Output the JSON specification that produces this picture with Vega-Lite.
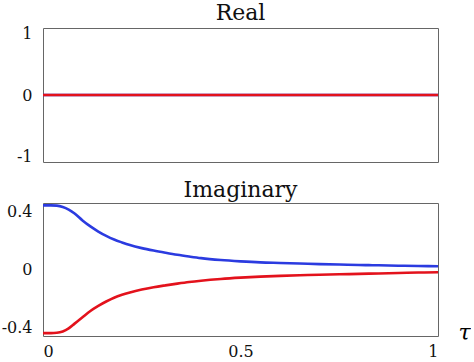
{
  "$schema": "https://vega.github.io/schema/vega-lite/v6.json",
  "padding": {"left": 0, "top": 1, "right": 0, "bottom": 0},
  "background": "white",
  "datasets": {
    "real": [
      {"series": "s1", "t": 0, "v": 0},
      {"series": "s1", "t": 1, "v": 0},
      {"series": "s2", "t": 0, "v": 0},
      {"series": "s2", "t": 1, "v": 0}
    ],
    "imag": [
      {"series": "s1", "t": 0, "v": 0.441},
      {"series": "s1", "t": 0.02, "v": 0.441},
      {"series": "s1", "t": 0.035, "v": 0.439},
      {"series": "s1", "t": 0.05, "v": 0.43},
      {"series": "s1", "t": 0.065, "v": 0.412},
      {"series": "s1", "t": 0.08, "v": 0.385},
      {"series": "s1", "t": 0.1, "v": 0.337},
      {"series": "s1", "t": 0.12, "v": 0.296},
      {"series": "s1", "t": 0.14, "v": 0.261},
      {"series": "s1", "t": 0.16, "v": 0.231},
      {"series": "s1", "t": 0.18, "v": 0.206},
      {"series": "s1", "t": 0.2, "v": 0.186},
      {"series": "s1", "t": 0.22, "v": 0.168},
      {"series": "s1", "t": 0.25, "v": 0.147},
      {"series": "s1", "t": 0.28, "v": 0.13},
      {"series": "s1", "t": 0.31, "v": 0.115},
      {"series": "s1", "t": 0.34, "v": 0.101},
      {"series": "s1", "t": 0.37, "v": 0.089},
      {"series": "s1", "t": 0.4, "v": 0.078},
      {"series": "s1", "t": 0.45, "v": 0.065},
      {"series": "s1", "t": 0.5, "v": 0.056},
      {"series": "s1", "t": 0.55, "v": 0.049},
      {"series": "s1", "t": 0.6, "v": 0.045},
      {"series": "s1", "t": 0.65, "v": 0.041},
      {"series": "s1", "t": 0.7, "v": 0.037},
      {"series": "s1", "t": 0.75, "v": 0.034},
      {"series": "s1", "t": 0.8, "v": 0.031},
      {"series": "s1", "t": 0.85, "v": 0.029},
      {"series": "s1", "t": 0.9, "v": 0.026},
      {"series": "s1", "t": 0.95, "v": 0.024},
      {"series": "s1", "t": 1.0, "v": 0.022},
      {"series": "s2", "t": 0, "v": -0.437},
      {"series": "s2", "t": 0.02, "v": -0.437},
      {"series": "s2", "t": 0.035, "v": -0.435},
      {"series": "s2", "t": 0.05, "v": -0.426},
      {"series": "s2", "t": 0.065, "v": -0.405},
      {"series": "s2", "t": 0.08, "v": -0.372},
      {"series": "s2", "t": 0.1, "v": -0.328},
      {"series": "s2", "t": 0.12, "v": -0.285},
      {"series": "s2", "t": 0.14, "v": -0.25},
      {"series": "s2", "t": 0.16, "v": -0.22},
      {"series": "s2", "t": 0.18, "v": -0.194},
      {"series": "s2", "t": 0.2, "v": -0.174},
      {"series": "s2", "t": 0.22, "v": -0.158},
      {"series": "s2", "t": 0.25, "v": -0.138},
      {"series": "s2", "t": 0.28, "v": -0.122},
      {"series": "s2", "t": 0.31, "v": -0.109},
      {"series": "s2", "t": 0.34, "v": -0.097},
      {"series": "s2", "t": 0.37, "v": -0.086},
      {"series": "s2", "t": 0.4, "v": -0.077},
      {"series": "s2", "t": 0.45, "v": -0.065},
      {"series": "s2", "t": 0.5, "v": -0.056},
      {"series": "s2", "t": 0.55, "v": -0.049},
      {"series": "s2", "t": 0.6, "v": -0.044},
      {"series": "s2", "t": 0.65, "v": -0.04},
      {"series": "s2", "t": 0.7, "v": -0.036},
      {"series": "s2", "t": 0.75, "v": -0.033},
      {"series": "s2", "t": 0.8, "v": -0.03},
      {"series": "s2", "t": 0.85, "v": -0.027},
      {"series": "s2", "t": 0.9, "v": -0.024},
      {"series": "s2", "t": 0.95, "v": -0.021},
      {"series": "s2", "t": 1.0, "v": -0.019}
    ]
  },
  "config": {
    "font": "DejaVu Serif",
    "view": {"stroke": "#666666", "strokeWidth": 1},
    "axis": {
      "grid": false, "domain": false, "ticks": false,
      "labelFont": "DejaVu Serif", "labelFontSize": 16, "labelColor": "#111111",
      "titleFont": "DejaVu Serif"
    },
    "title": {"font": "DejaVu Serif", "fontSize": 22, "fontWeight": "normal", "color": "#111111", "anchor": "middle", "baseline": "alphabetic", "offset": 1}
  },
  "spacing": 13,
  "vconcat": [
    {
      "title": "Real",
      "width": 395,
      "height": 134,
      "data": {"name": "real"},
      "mark": {"type": "line", "strokeWidth": 2.6, "clip": true},
      "encoding": {
        "x": {"field": "t", "type": "quantitative", "scale": {"domain": [0, 1], "nice": false}, "axis": null},
        "y": {"field": "v", "type": "quantitative", "scale": {"domain": [-1.09, 1.09], "nice": false, "zero": false},
              "axis": {"values": [-1, 0, 1], "labelExpr": "'' + datum.value", "labelPadding": 11, "title": null}},
        "color": {"field": "series", "type": "nominal", "scale": {"domain": ["s1", "s2"], "range": ["#2b3be0", "#e3121c"]}, "legend": null}
      }
    },
    {
      "title": "Imaginary",
      "width": 395,
      "height": 133,
      "data": {"name": "imag"},
      "mark": {"type": "line", "strokeWidth": 2.6, "interpolate": "monotone", "clip": true},
      "encoding": {
        "x": {"field": "t", "type": "quantitative", "scale": {"domain": [0, 1], "nice": false},
              "axis": {"values": [0, 0.5, 1], "labelExpr": "'' + datum.value", "labelPadding": 7,
                       "title": "τ", "titleFontSize": 22, "titleFontStyle": "italic", "titleFontWeight": "normal",
                       "titleAngle": 0, "titleAlign": "center", "titleBaseline": "middle", "titleX": 421, "titleY": -4}},
        "y": {"field": "v", "type": "quantitative", "scale": {"domain": [-0.457, 0.457], "nice": false, "zero": false},
              "axis": {"values": [-0.4, 0, 0.4], "labelExpr": "'' + datum.value", "labelPadding": 11, "title": null}},
        "color": {"field": "series", "type": "nominal", "scale": {"domain": ["s1", "s2"], "range": ["#2b3be0", "#e3121c"]}, "legend": null}
      }
    }
  ]
}
